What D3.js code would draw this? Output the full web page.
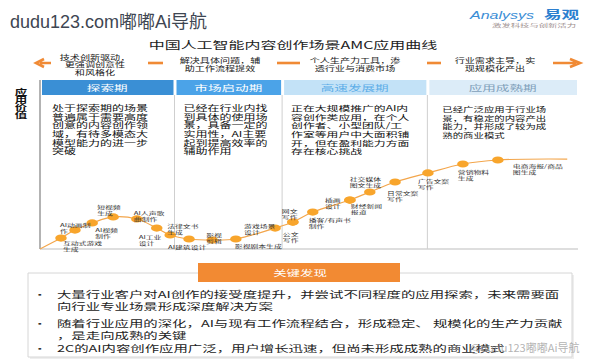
<!DOCTYPE html>
<html>
<head>
<meta charset="utf-8">
<script src="https://cdn.jsdelivr.net/npm/d3@7"></script>
<style>
  html, body { margin: 0; padding: 0; background: #fff; }
  svg { display: block; font-family: "Noto Sans CJK SC", "Noto Sans", sans-serif; }
</style>
</head>
<body>
<div id="chart"></div>
<script>
// phases of the AMC curve and their texts
const phases = ["探索期", "市场启动期", "高速发展期", "应用成熟期"];
const phaseEdges = [0, 25, 45, 72, 100]; // on the maturity axis
const phaseNotes = [
  ["处于探索期的场景", "普遍属于需要高度", "创意的内容创作领", "域，有待多模态大", "模型能力的进一步", "突破"],
  ["已经在行业内找", "到具体的使用场", "景，具备一定的", "实用性，AI主要", "起到提高效率的", "辅助作用"],
  ["正在大规模推广的AI内", "容创作类应用，在个人", "创作者、小型团队/工", "作室等用户中大面积铺", "开，但在盈利能力方面", "存在核心挑战"],
  ["已经广泛应用于行业场", "景，有稳定的内容产出", "能力，并形成了较为成", "熟的商业模式"]
];
const drivers = [
  ["技术创新驱动，", "更强调创意性", "和风格化"],
  ["解决具体问题，辅", "助工作流程提效"],
  ["个人生产力工具，渗", "透行业与消费市场"],
  ["行业需求主导，实", "现规模化产出"]
];

// scenes on the curve ("|" = line break in label)
const scenes = ["互动式游戏|生成", "AI动画制|作", "AI视频|制作", "短视频|生成", "AI人声歌|曲制作",
  "AI工业|设计", "法律文书|生成", "AI建筑设计", "影视|剪辑", "影视剧本生成", "游戏场景|设计",
  "公文|写作", "网文|写作", "播客/有声书|制作", "插画|设计", "财经新闻|报道", "社交媒体|图文生成",
  "日常文案|写作", "广告文案|写作", "营销物料|生成", "电商海报/商品|图生成"];
const maturity = [3.9, 6.5, 9.7, 13.6, 18.0, 21.7, 24.2, 27.7, 32.0, 36.4, 43.7,
  47.0, 47.0, 50.7, 57.6, 57.6, 61.3, 66.0, 72.1, 78.6, 85.1];
const value = [7.1, 12.3, 16.9, 20.8, 19.5, 13.6, 9.1, 6.5, 5.8, 6.5, 13.6,
  17.5, 17.5, 24.0, 31.8, 31.8, 37.0, 43.5, 49.4, 55.2, 57.8];
const curveStart = [0, 0];
const curveEnd = [98, 58.4];

const findings = [
  ["大量行业客户对AI创作的接受度提升，并尝试不同程度的应用探索，未来需要面", "向行业专业场景形成深度解决方案"],
  ["随着行业应用的深化，AI与现有工作流程结合，形成稳定、 规模化的生产力贡献", "，是走向成熟的关键"],
  ["2C的AI内容创作应用广泛，用户增长迅速，但尚未形成成熟的商业模式"]
];

// label placement (pixels from dot: dx, dy of first baseline)
const labelAt = [[2, 7], [-15, -3], [3, 9], [-16, -8], [-3, -4], [-18, 11], [-3, -7], [-21, 10],
  [-6, -3], [-1, 9], [-31, 0], [-10, 14], [-11, -9], [-4, 10], [-25, 2], [1, 8], [-20, -11],
  [-8, 13], [-10, 10], [-5, 10], [15, 8]];

// the picture is stretched horizontally, so draw in a narrower viewBox
const S = 1.6;
const W = 600 / S;
const px = v => v / S;

const svg = d3.select("#chart").append("svg")
  .attr("width", 600).attr("height", 360)
  .attr("viewBox", `0 0 ${W} 360`)
  .attr("preserveAspectRatio", "none");

const x = d3.scaleLinear().domain([0, 100]).range([px(40), px(578)]);
const y = d3.scaleLinear().domain([0, 100]).range([249, 95]);
const orange = "#f08a35";

// watermark (not stretched)
svg.append("text")
  .attr("transform", `scale(${1 / S},1)`)
  .attr("x", 10).attr("y", 28)
  .attr("font-size", 18)
  .attr("font-family", "'Liberation Sans', 'Noto Sans CJK SC', sans-serif")
  .attr("fill", "#3e4652")
  .text("dudu123.com嘟嘟Ai导航");

// logo
svg.append("text").attr("x", px(470)).attr("y", 19)
  .attr("font-size", 10).attr("font-style", "italic")
  .attr("font-family", "'Liberation Sans', sans-serif")
  .attr("fill", "#3b8ed6").text("Analysys");
svg.append("text").attr("x", px(544)).attr("y", 19)
  .attr("font-size", 11).attr("font-weight", "bold")
  .attr("fill", "#2c7fcf").text("易观");
svg.append("text").attr("x", px(492)).attr("y", 27)
  .attr("font-size", 5).attr("fill", "#a09090")
  .attr("textLength", px(84)).attr("lengthAdjust", "spacingAndGlyphs")
  .text("激发科技与创新活力");

// title
svg.append("text").attr("x", px(293)).attr("y", 49)
  .attr("text-anchor", "middle").attr("font-size", 10).attr("fill", "#222")
  .text("中国人工智能内容创作场景AMC应用曲线");

// driver row with arrows
const driverX = [95, 220, 355, 495];
const driverY = [60, 63.5, 63.5, 63.5];
drivers.forEach((lines, i) => {
  svg.append("text")
    .attr("x", px(driverX[i])).attr("y", driverY[i])
    .attr("text-anchor", "middle").attr("font-size", 6.3).attr("fill", "#222")
    .selectAll("tspan").data(lines).join("tspan")
    .attr("x", px(driverX[i])).attr("dy", (d, j) => j ? 7.5 : 0)
    .text(d => d);
});
const dashes = [[148, 163], [277, 300], [427, 441]];
svg.selectAll(".dash").data(dashes).join("line")
  .attr("x1", d => px(d[0])).attr("x2", d => px(d[1]))
  .attr("y1", 63).attr("y2", 63)
  .attr("stroke", orange).attr("stroke-width", 2.6)
  .attr("vector-effect", "non-scaling-stroke");
// left and right arrows
svg.append("path")
  .attr("d", `M${px(51)},63 L${px(40)},63 M${px(44)},59 L${px(36)},63 L${px(44)},67`)
  .attr("fill", "none").attr("stroke", orange).attr("stroke-width", 2.6)
  .attr("vector-effect", "non-scaling-stroke");
svg.append("path")
  .attr("d", `M${px(553)},63 L${px(576)},63 M${px(570)},59 L${px(580)},63 L${px(570)},67`)
  .attr("fill", "none").attr("stroke", orange).attr("stroke-width", 2.6)
  .attr("vector-effect", "non-scaling-stroke");

// phase headers
const headFill = ["#3a8fd5", "#4ba3e8", "#c3e2f7", "#dcecf8"];
const headText = ["#ffffff", "#ffffff", "#5eaee8", "#7f9fba"];
const head = svg.selectAll(".head").data(phases).join("g");
head.append("rect")
  .attr("x", (d, i) => x(phaseEdges[i]) + px(2))
  .attr("width", (d, i) => x(phaseEdges[i + 1]) - x(phaseEdges[i]) - px(3))
  .attr("y", 80).attr("height", 15)
  .attr("fill", (d, i) => headFill[i]);
head.append("text")
  .attr("x", (d, i) => (x(phaseEdges[i]) + x(phaseEdges[i + 1])) / 2)
  .attr("y", 91.5).attr("text-anchor", "middle")
  .attr("font-size", 8.5).attr("fill", (d, i) => headText[i])
  .text(d => d);

// phase notes
const notePad = [12, 9, 9, 15];
const noteSize = [7.5, 7.5, 7.4, 6.5];
phaseNotes.forEach((lines, i) => {
  svg.append("text")
    .attr("y", i === 3 ? 112 : 111)
    .attr("font-size", noteSize[i]).attr("fill", "#111")
    .selectAll("tspan").data(lines).join("tspan")
    .attr("x", x(phaseEdges[i]) + px(notePad[i]))
    .attr("dy", (d, j) => j ? 8.7 : 0)
    .text(d => d);
});

// y label, written top to bottom
svg.append("text")
  .attr("x", px(21)).attr("y", 88)
  .attr("writing-mode", "tb")
  .attr("font-size", 7.8).attr("font-weight", "bold").attr("fill", "#111")
  .text("应用价值");

// axes and separators
svg.append("line")
  .attr("x1", x(0)).attr("x2", x(0)).attr("y1", 80).attr("y2", y(0))
  .attr("stroke", "#9a9a9a").attr("stroke-width", 1.5)
  .attr("vector-effect", "non-scaling-stroke");
svg.append("line")
  .attr("x1", x(0)).attr("x2", x(100)).attr("y1", y(0)).attr("y2", y(0))
  .attr("stroke", "#bdbdbd").attr("stroke-width", 1.2)
  .attr("vector-effect", "non-scaling-stroke");
svg.selectAll(".sep").data(phaseEdges.slice(1, 4)).join("line")
  .attr("x1", d => x(d)).attr("x2", d => x(d))
  .attr("y1", 95).attr("y2", y(0))
  .attr("stroke", "#cfcfcf").attr("stroke-width", 1)
  .attr("vector-effect", "non-scaling-stroke");

// curve
const pts = scenes.map((s, i) => ({ name: s, m: maturity[i], v: value[i], i }));
const curvePts = [curveStart, ...pts.filter((p, i) => i === 0 || p.m !== pts[i - 1].m).map(p => [p.m, p.v]), curveEnd];
svg.append("path")
  .datum(curvePts)
  .attr("d", d3.line().x(d => x(d[0])).y(d => y(d[1])).curve(d3.curveCatmullRom.alpha(0.5)))
  .attr("fill", "none").attr("stroke", "#f3a64c").attr("stroke-width", 1.2)
  .attr("vector-effect", "non-scaling-stroke");

svg.selectAll(".dot").data(pts).join("circle")
  .attr("cx", d => x(d.m)).attr("cy", d => y(d.v)).attr("r", 3.6)
  .attr("fill", "#f8a52c");

svg.selectAll(".lbl").data(pts).join("text")
  .attr("font-size", 4.9).attr("fill", "#333")
  .each(function (d) {
    const [dx, dy] = labelAt[d.i];
    d3.select(this).selectAll("tspan").data(d.name.split("|")).join("tspan")
      .attr("x", x(d.m) + px(dx))
      .attr("y", (t, j) => y(d.v) + dy + j * 6)
      .text(t => t);
  });

// key findings box
svg.append("rect")
  .attr("x", px(30)).attr("y", 275).attr("width", px(544)).attr("height", 84)
  .attr("fill", "#eeeeee");
svg.append("rect")
  .attr("x", px(28)).attr("y", 273).attr("width", px(544)).attr("height", 84)
  .attr("fill", "#fff").attr("stroke", "#d6d6d6")
  .attr("vector-effect", "non-scaling-stroke");
svg.append("rect")
  .attr("x", px(198)).attr("y", 263).attr("width", px(202)).attr("height", 19)
  .attr("fill", "#f28a33");
svg.append("text")
  .attr("x", px(300)).attr("y", 276.5).attr("text-anchor", "middle")
  .attr("font-size", 8.4).attr("fill", "#fff").text("关键发现");

const findY = [298, 327, 352];
findings.forEach((lines, i) => {
  svg.append("text").attr("x", px(35)).attr("y", findY[i] - 1)
    .attr("font-size", 6).attr("fill", "#333").text("▪");
  svg.append("text").attr("y", findY[i])
    .attr("font-size", 9).attr("fill", "#222")
    .selectAll("tspan").data(lines).join("tspan")
    .attr("x", px(57)).attr("dy", (d, j) => j ? 12 : 0)
    .text(d => d);
});

// bottom watermark (not stretched)
svg.append("text")
  .attr("transform", `scale(${1 / S},1)`)
  .attr("x", 470).attr("y", 352)
  .attr("font-size", 11).attr("fill", "#9a9a9a").attr("fill-opacity", 0.75)
  .text("@dudu123嘟嘟Ai导航");
</script>
</body>
</html>
